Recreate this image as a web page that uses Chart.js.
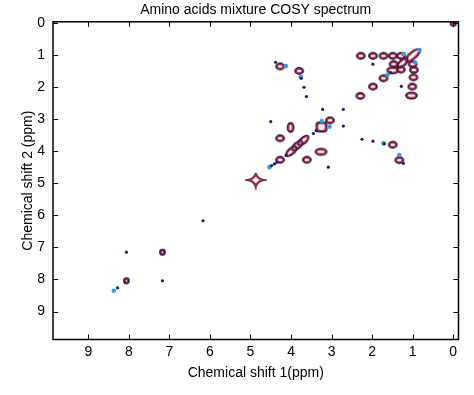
<!DOCTYPE html>
<html>
<head>
<meta charset="utf-8">
<script src="https://cdn.jsdelivr.net/npm/chart.js@4.4.0/dist/chart.umd.min.js"></script>
<style>
  html, body { margin: 0; padding: 0; background: #fff; }
</style>
</head>
<body>
<canvas id="cosy" width="474" height="395"></canvas>
<script>
// tick labels, same on both axes (ppm)
var tickValues = [0, 1, 2, 3, 4, 5, 6, 7, 8, 9];

// cross / diagonal peaks drawn as contour rings: shift 1 (x) and shift 2 (y), ppm
var ringX = [2.28, 1.98, 1.72, 1.49, 1.29, 4.27, 3.80, 1.47, 1.29, 1.00, 0.97, 0.98, 1.01, 1.72, 1.98, 2.29, 3.04, 4.27, 1.49, 4.27, 3.61, 1.33];
var ringY = [1.03, 1.03, 1.03, 1.03, 1.03, 1.36, 1.50, 1.29, 1.46, 1.29, 1.47, 1.70, 1.99, 1.73, 1.99, 2.28, 3.04, 3.60, 3.80, 4.27, 4.27, 4.28];
var wideX = [1.49, 1.03, 3.26];
var wideY = [1.48, 2.27, 4.02];
var tallX = [4.01];
var tallY = [3.26];
var diagX = [3.70, 3.85, 3.99, 1.25];
var diagY = [3.67, 3.83, 4.00, 1.25];
var bigX = [1.00];
var bigY = [1.02];
var squareX = [3.25];
var squareY = [3.25];
var starX = [4.87];
var starY = [4.90];
var smallX = [7.17, 8.06, 0.00];
var smallY = [7.15, 8.04, 0.02];

// weak peaks: dark dots and light blue dots
var navyX = [4.38, 1.98, 3.68, 3.62, 3.22, 2.71, 4.50, 2.71, 3.38, 3.45, 2.25, 1.98, 1.70, 4.12, 1.23, 3.08, 4.48, 4.41, 4.35, 1.28, 1.55, 6.17, 8.06, 7.17, 8.28, 3.75];
var navyY = [1.23, 1.29, 2.01, 2.30, 2.70, 2.70, 3.08, 3.22, 3.36, 3.45, 3.63, 3.69, 3.77, 4.14, 4.38, 4.50, 4.45, 4.40, 4.35, 1.98, 1.55, 6.17, 7.15, 8.04, 8.26, 1.73];
var cyanX = [4.13, 3.76, 3.24, 3.05, 1.72, 1.33, 4.53, 0.83, 1.23, 0.94, 1.62, 8.37];
var cyanY = [1.35, 1.69, 3.06, 3.24, 3.76, 4.12, 4.50, 0.85, 0.97, 1.24, 1.62, 8.35];

function pts(xs, ys) {
  return xs.map(function (x, i) { return { x: x, y: ys[i] }; });
}

// contour glyph: dark outer line with a red inner line
function contour(w, h, angle, shape) {
  var size = Math.ceil(Math.max(w, h)) + 6;
  var c = document.createElement('canvas');
  c.width = size; c.height = size;
  var g = c.getContext('2d');
  g.translate(size / 2, size / 2);
  g.rotate(angle * Math.PI / 180);
  function path(a, b) {
    g.beginPath();
    if (shape === 'star') {
      g.moveTo(0, -b);
      g.quadraticCurveTo(a * 0.15, -b * 0.15, a, 0);
      g.quadraticCurveTo(a * 0.15, b * 0.15, 0, b);
      g.quadraticCurveTo(-a * 0.15, b * 0.15, -a, 0);
      g.quadraticCurveTo(-a * 0.15, -b * 0.15, 0, -b);
    } else if (shape === 'square') {
      g.roundRect(-a, -b, a * 2, b * 2, 2);
    } else {
      g.ellipse(0, 0, a, b, 0, 0, Math.PI * 2);
    }
  }
  path(w / 2, h / 2);
  g.lineWidth = 1.8;
  g.strokeStyle = '#2e1848';
  g.stroke();
  path(w / 2 - 1.2, h / 2 - 1.2);
  g.lineWidth = 1.2;
  g.strokeStyle = '#c4283c';
  g.stroke();
  return c;
}

var frame = {
  id: 'frame',
  afterDraw: function (chart) {
    var ctx = chart.ctx, a = chart.chartArea;
    var xs = chart.scales.x, ys = chart.scales.y;
    ctx.save();
    ctx.strokeStyle = '#000';
    ctx.lineWidth = 1.5;
    ctx.strokeRect(a.left, a.top, a.right - a.left, a.bottom - a.top);
    ctx.lineWidth = 1;
    ctx.beginPath();
    tickValues.forEach(function (v) {
      var px = Math.round(xs.getPixelForValue(v)) + 0.5;
      ctx.moveTo(px, a.bottom); ctx.lineTo(px, a.bottom - 5);
      ctx.moveTo(px, a.top); ctx.lineTo(px, a.top + 5);
      var py = Math.round(ys.getPixelForValue(v)) + 0.5;
      ctx.moveTo(a.left, py); ctx.lineTo(a.left + 5, py);
      ctx.moveTo(a.right, py); ctx.lineTo(a.right - 5, py);
    });
    ctx.stroke();
    ctx.restore();
  }
};

function glyphSet(xs, ys, style) {
  return { data: pts(xs, ys), pointStyle: style, pointRadius: 6, pointHoverRadius: 6 };
}

Chart.defaults.font.family = '"Liberation Sans", Arial, sans-serif';
Chart.defaults.color = '#000';

new Chart(document.getElementById('cosy'), {
  type: 'scatter',
  data: {
    datasets: [
      { data: pts(navyX, navyY), pointStyle: 'circle', pointRadius: 1.6, backgroundColor: '#1b1b78', borderColor: '#1b1b78', borderWidth: 0 },
      { data: pts(cyanX, cyanY), pointStyle: 'circle', pointRadius: 2.3, backgroundColor: '#3e9bdc', borderColor: '#3e9bdc', borderWidth: 0 },
      glyphSet(ringX, ringY, contour(8, 6, 0, 'ellipse')),
      glyphSet(wideX, wideY, contour(11, 6, 0, 'ellipse')),
      glyphSet(tallX, tallY, contour(6, 9, 0, 'ellipse')),
      glyphSet(diagX, diagY, contour(13, 6, -40, 'ellipse')),
      glyphSet(bigX, bigY, contour(18, 7, -40, 'ellipse')),
      glyphSet(squareX, squareY, contour(10, 9, 0, 'square')),
      glyphSet(starX, starY, contour(16, 14, 0, 'star')),
      glyphSet(smallX, smallY, contour(5, 5, 0, 'ellipse'))
    ]
  },
  options: {
    responsive: false,
    animation: false,
    layout: { padding: { right: 15.5 } },
    plugins: {
      legend: { display: false },
      tooltip: { enabled: false },
      title: {
        display: true,
        fullSize: false,
        text: 'Amino acids mixture COSY spectrum',
        font: { size: 14, weight: 'normal' },
        padding: { top: 2, bottom: 3 }
      }
    },
    scales: {
      x: {
        type: 'linear',
        reverse: true,
        min: -0.13,
        max: 9.87,
        afterBuildTicks: function (s) { s.ticks = tickValues.map(function (v) { return { value: v }; }); },
        afterFit: function (s) { s.height = 55.5; },
        grid: { display: false, drawTicks: false },
        border: { display: false },
        ticks: { font: { size: 14 }, padding: 4, maxRotation: 0 },
        title: { display: true, text: 'Chemical shift 1(ppm)', font: { size: 14 }, padding: { top: 0, bottom: 13.6 } }
      },
      y: {
        type: 'linear',
        reverse: true,
        min: -0.03,
        max: 9.87,
        afterBuildTicks: function (s) { s.ticks = tickValues.map(function (v) { return { value: v }; }); },
        afterFit: function (s) { s.width = 53; },
        grid: { display: false, drawTicks: false },
        border: { display: false },
        ticks: { font: { size: 14 }, padding: 8 },
        title: { display: true, text: 'Chemical shift 2 (ppm)', font: { size: 14 }, padding: { top: 19.6, bottom: 0 } }
      }
    }
  },
  plugins: [frame]
});
</script>
</body>
</html>
